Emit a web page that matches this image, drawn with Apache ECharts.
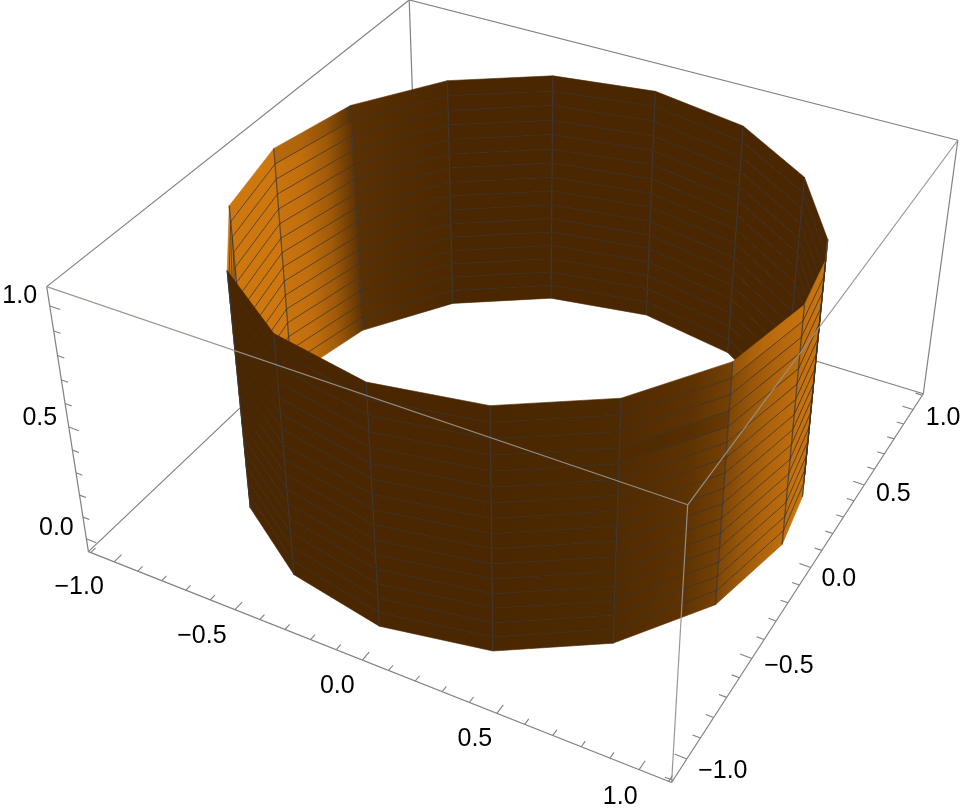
<!DOCTYPE html><html><head><meta charset="utf-8"><style>html,body{margin:0;background:#fff}#c{width:960px;height:810px}</style></head><body><div id="c"></div>
<script src="https://cdn.jsdelivr.net/npm/echarts@6/dist/echarts.min.js"></script>
<script>
const thetas=[-135,-112.5,-90,-67.5,-45,-22.5,0,15.5,22.5,45,67.5,90,112.5,135,157.5,180,202.5,225];
const zLevels=[0,0.064,0.128,0.192,0.256,0.32,0.384,0.448,0.512,0.576,0.64,0.704,0.768,0.832,0.896,0.96,1.025];
const facetShades=[[0,0,0,0],[0,0,0,0],[0,0,0,0],[0,0.01,0.02,0.03],[0.05,0.08,0.14,0.3],[0.36,0.55,0.7,0.8],[0.82,0.85,0.87,0.87],[0.87,0.87,0.87,0.87],
[0,0,0,0],[0,0,0,0],[0,0,0,0],[0,0,0,0],[0,0,0,0],[0.02,0.04,0.07,0.12],[0.15,0.58,0.82,0.88],[0.92,0.92,0.92,0.92],[0.92,0.92,0.92,0.92]];
const cellShades={'5:15':[0.5,0.7,0.82,0.85],'5:14':[0.38,0.58,0.72,0.82],'4:12':[0.04,0.05,0.09,0.22],'14:15':[0.1,0.5,0.7,0.76]};
const frontFacets=[0,7,1,6,2,5,3,4];
const backFacets=[8,9,10,11,12,13,14,15,16];
const xTicks=[-1.1,-1,-0.9,-0.8,-0.7,-0.6,-0.5,-0.4,-0.3,-0.2,-0.1,0,0.1,0.2,0.3,0.4,0.5,0.6,0.7,0.8,0.9,1,1.1];
const yTicks=[-1.1,-1,-0.9,-0.8,-0.7,-0.6,-0.5,-0.4,-0.3,-0.2,-0.1,0,0.1,0.2,0.3,0.4,0.5,0.6,0.7,0.8,0.9,1,1.1];
const zTicks=[0,0.1,0.2,0.3,0.4,0.5,0.6,0.7,0.8,0.9,1];
const xLabels=[[-1,'\u22121.0'],[-0.5,'\u22120.5'],[0,'0.0'],[0.5,'0.5'],[1,'1.0']];
const zLabels=[[0,'0.0'],[0.5,'0.5'],[1,'1.0']];
const boxXY=1.11,boxZ=[-0.06,1.076];
// perspective camera (3D plot coordinates -> chart coordinates)
const m=[218.6762,179.9524,-38.64596,524.9089,61.07879,-112.9567,-244.7210,456.4782,-0.04933331,0.09064728,-0.07368795];
function pr(X,Y,Z){const w=m[8]*X+m[9]*Y+m[10]*Z+1;return [(m[0]*X+m[1]*Y+m[2]*Z+m[3])/w,(m[4]*X+m[5]*Y+m[6]*Z+m[7])/w];}
const rim=(i,z)=>{const t=thetas[i]*Math.PI/180;return pr(Math.cos(t),Math.sin(t),z);};
const dark=[74,39,0],bright=[218,126,16];
const col=s=>'rgb('+dark.map((d,i)=>Math.round(d+(bright[i]-d)*s)).join(',')+')';
const XY=boxXY,Z0=boxZ[0],Z1=boxZ[1];
const edgesBack=[[[-XY,-XY,Z0],[XY,-XY,Z0]],[[XY,-XY,Z0],[XY,XY,Z0]],[[XY,XY,Z0],[XY,XY,Z1]],[[-XY,-XY,Z0],[-XY,-XY,Z1]],[[-XY,-XY,Z1],[-XY,XY,Z1]],[[-XY,XY,Z1],[XY,XY,Z1]],[[-XY,XY,Z1],[-XY,XY,Z0]],[[-XY,XY,Z0],[XY,XY,Z0]],[[-XY,XY,Z0],[-XY,-XY,Z0]]];
const edgesFront=[[[-XY,-XY,Z1],[XY,-XY,Z1]],[[XY,-XY,Z1],[XY,XY,Z1]],[[XY,-XY,Z1],[XY,-XY,Z0]]];
const lineStyle=(c,w)=>({stroke:c,lineWidth:w,fill:null});
function edgeSeries(edges,z,c,w){return {type:'custom',coordinateSystem:'cartesian2d',z,silent:true,clip:false,data:edges.map((e,i)=>[i]),
 renderItem:(p,api)=>{const e=edges[api.value(0)];return {type:'polyline',shape:{points:e.map(q=>api.coord(pr(...q)))},style:lineStyle(c,w)};}};}
function cellSeries(facets,z){const data=[];facets.forEach(f=>{for(let r=0;r<zLevels.length-1;r++)data.push([f,r]);});
 return {type:'custom',coordinateSystem:'cartesian2d',z,silent:true,clip:false,data,renderItem:(p,api)=>{
  const f=api.value(0),r=api.value(1),z0=zLevels[r],z1=zLevels[r+1];
  const P=[rim(f,z0),rim(f+1,z0),rim(f+1,z1),rim(f,z1)].map(q=>api.coord(q));
  const e=[P[3][0]-P[0][0],P[3][1]-P[0][1]],len=Math.hypot(e[0],e[1]),n=[-e[1]/len,e[0]/len];
  const d=(P[1][0]-P[0][0])*n[0]+(P[1][1]-P[0][1])*n[1];
  const sh=cellShades[f+':'+r]||facetShades[f];
  const fill={type:'linear',global:true,x:P[0][0],y:P[0][1],x2:P[0][0]+n[0]*d,y2:P[0][1]+n[1]*d,colorStops:sh.map((s,i)=>({offset:i/(sh.length-1),color:col(s)}))};
  return {type:'polygon',shape:{points:P},style:{fill,stroke:fill,lineWidth:0.6}};
 }};}
function meshSeries(facets,z){const idx=[...new Set(facets.flatMap(f=>[f,f+1]))].sort((a,b)=>a-b);const data=[];
 idx.forEach(i=>data.push([0,i]));for(let r=1;r<zLevels.length-1;r++)data.push([1,r]);
 return {type:'custom',coordinateSystem:'cartesian2d',z,silent:true,clip:false,data,renderItem:(p,api)=>{
  if(api.value(0)===0){const i=api.value(1);return {type:'polyline',shape:{points:[api.coord(rim(i,zLevels[0])),api.coord(rim(i,zLevels[16]))]},style:lineStyle('rgba(56,56,60,0.75)',1.3)};}
  const zz=zLevels[api.value(1)];return {type:'polyline',shape:{points:idx.map(i=>api.coord(rim(i,zz)))},style:lineStyle('rgba(52,46,42,0.72)',1)};
 }};}
const len=v=>Math.abs(v*2-Math.round(v*2))<1e-6?0.042:0.027;
function tickSeries(ticks,fn,z){return {type:'custom',coordinateSystem:'cartesian2d',z,silent:true,clip:false,data:ticks.map(v=>[v]),
 renderItem:(p,api)=>{const [a,bb]=fn(api.value(0));return {type:'polyline',shape:{points:[api.coord(pr(...a)),api.coord(pr(...bb))]},style:lineStyle('#808080',1.1)};}};}
function labelSeries(items,anchor,offs,z){return {type:'custom',coordinateSystem:'cartesian2d',z,silent:true,clip:false,data:items.map((it,i)=>[it[0],i]),
 renderItem:(p,api)=>{const i=api.value(1),c=api.coord(pr(...anchor(api.value(0))));return {type:'text',x:c[0]+offs[i][0],y:c[1]+offs[i][1],style:{text:items[i][1],font:'25px "Liberation Sans"',fill:'#000',textAlign:'center',textVerticalAlign:'middle'}};}};}
const xOff=[[-35,25],[-33,26],[-25,26],[-22,26],[-19,27]],yOff=[[36,12],[37,8],[28,12],[29,9],[30,9]],zOff=[[-30,-11],[-29,-9],[-30,-10]];
const chart=echarts.init(document.getElementById('c'),null,{renderer:'canvas'});
chart.setOption({animation:false,grid:{left:0,right:0,top:0,bottom:0},
 xAxis:{type:'value',min:0,max:960,show:false},yAxis:{type:'value',min:0,max:810,inverse:true,show:false},
 series:[edgeSeries(edgesBack,1,'#808080',1.2),cellSeries(backFacets,2),meshSeries(backFacets,3),cellSeries(frontFacets,4),meshSeries(frontFacets,5),edgeSeries(edgesFront,6,'rgba(150,146,140,0.95)',1.2),
 tickSeries(xTicks,v=>[[v,-XY,Z0],[v,-XY+len(v),Z0]],7),tickSeries(yTicks,v=>[[XY,v,Z0],[XY-len(v),v,Z0]],7),tickSeries(zTicks,v=>[[-XY,-XY,v],[-XY+len(v),-XY,v]],7),
 labelSeries(xLabels,v=>[v,-XY,Z0],xOff,8),labelSeries(xLabels,v=>[XY,v,Z0],yOff,8),labelSeries(zLabels,v=>[-XY,-XY,v],zOff,8)]});
</script></body></html>
